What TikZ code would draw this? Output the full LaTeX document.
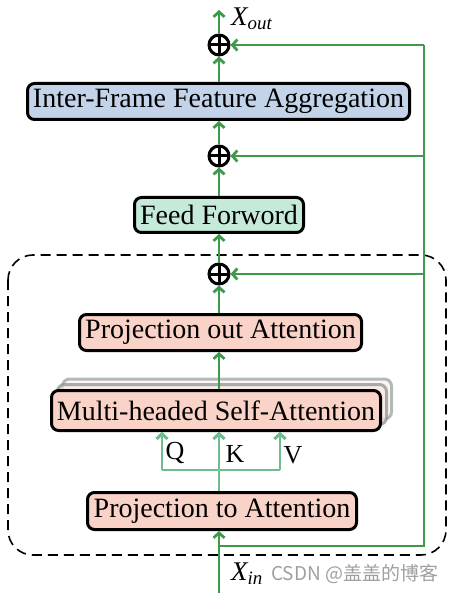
\documentclass[tikz,border=0pt]{standalone}
\usepackage{fontspec}
\setmainfont{Liberation Serif}
\newfontfamily\cjk{Noto Sans CJK SC}
\usetikzlibrary{arrows.meta}

\definecolor{linegreen}{HTML}{3D9A4B}
\definecolor{shadegreen}{HTML}{7FCBA8}
\definecolor{aggblue}{HTML}{C3D4EA}
\definecolor{ffgreen}{HTML}{C6EAD9}
\definecolor{attsalmon}{HTML}{FAD3C8}
\definecolor{shadowgray}{HTML}{7F918E}

\tikzset{
  block/.style={draw, line width=3pt, rounded corners=7pt, inner sep=0pt,
    font=\fontsize{28}{30}\selectfont},
  flow/.style={linegreen, line width=2.8pt, -{Straight Barb[length=5pt,width=11pt]}},
  wire/.style={linegreen, line width=2.8pt},
  adder/.style={circle, draw, line width=3pt, minimum size=20pt, inner sep=0pt,
    path picture={\draw[line width=3pt]
      (path picture bounding box.north) -- (path picture bounding box.south)
      (path picture bounding box.west) -- (path picture bounding box.east);}},
  qkv/.style={font=\fontsize{26}{28}\selectfont, inner sep=0pt},
}

\begin{document}
\begin{tikzpicture}[x=1pt, y=-1pt]
    \useasboundingbox (0,0) rectangle (457,593);

    % Dashed attention block
    \draw[dashed, dash pattern=on 10pt off 6pt, line width=1.6pt, rounded corners=25pt]
        (8,255) rectangle (446,555);

    % Nodes
    \node[adder] (add1) at (219,45) {};
    \node[block, fill=aggblue, minimum width=382pt, minimum height=36pt] (IFA) at (218.5,101.5) {Inter-Frame Feature Aggregation};
    \node[adder] (add2) at (219,156) {};
    \node[block, fill=ffgreen, minimum width=169pt, minimum height=35pt] (FF) at (219,215) {Feed Forword};
    \node[adder] (add3) at (219,274) {};
    \node[block, fill=attsalmon, minimum width=282pt, minimum height=36pt] (PoA) at (220.5,332.5) {Projection out Attention};

    % stacked heads behind
    \node[block, draw=shadowgray, fill=attsalmon!40, opacity=0.6, minimum width=329pt, minimum height=40pt] (MSAback2) at (227,399) {};
    \node[block, draw=shadowgray, fill=attsalmon!60, opacity=0.7, minimum width=329pt, minimum height=40pt] (MSAback1) at (222,404.5) {};
    \node[block, fill=attsalmon, minimum width=329pt, minimum height=40pt] (MSA) at (216,410.5) {Multi-headed Self-Attention};

    \node[block, fill=attsalmon, minimum width=269pt, minimum height=37pt] (PtA) at (222,511) {Projection to Attention};

    \node[qkv] (Q) at (175,453) {Q};
    \node[qkv] (K) at (235,454) {K};
    \node[qkv] (V) at (293,455) {V};

    \coordinate (in) at (219,593);
    \coordinate (out) at (219,10);
    \coordinate (skip) at (219,546);
    \coordinate (split) at (219,470);
    \coordinate (qfoot) at (162,470);
    \coordinate (vfoot) at (280,470);

    \node[font=\fontsize{27}{30}\selectfont\itshape, anchor=west, inner sep=0pt] (Xout) at (231,19) {X\textsubscript{out}};
    \node[font=\fontsize{27}{30}\selectfont\itshape, anchor=west, inner sep=0pt] (Xin) at (231,574) {X\textsubscript{in}};
    \node[font=\cjk\fontsize{19}{22}\selectfont, text=gray!75, anchor=west, inner sep=0pt] (mark) at (271,574) {CSDN @盖盖的博客};

    % Main path
    \draw[flow] (in) -- (PtA.south -| in);
    \draw[wire] (PtA.north -| split) -- (split);
    \draw[wire] (qfoot) -- (vfoot);
    \draw[flow] (qfoot) -- (qfoot |- MSA.south);
    \draw[flow] (split) -- (split |- MSA.south);
    \draw[flow] (vfoot) -- (vfoot |- MSA.south);
    \draw[flow] (MSA.north -| add3) -- (PoA.south -| add3);
    \draw[flow] (PoA.north -| add3) -- (add3);
    \draw[flow] (add3) -- (FF.south -| add3);
    \draw[flow] (FF.north -| add2) -- (add2);
    \draw[flow] (add2) -- (IFA.south -| add2);
    \draw[flow] (IFA.north -| add1) -- (add1);
    \draw[flow] (add1) -- (out);

    % Residual connections
    \draw[wire] (skip) -- (424,546) -- (424,45);
    \draw[flow] (424,45) -- (add1);
    \draw[flow] (424,156) -- (add2);
    \draw[flow] (424,274) -- (add3);

    % faded copies of the Q, K, V split
    \foreach \dx/\dy/\op in {4/-5/0.55, 8/-10/0.4} {
        \begin{scope}[shift={(\dx,\dy)}, opacity=\op]
            \draw[shadegreen, line width=2.4pt] (PtA.north -| split) -- (split);
            \draw[shadegreen, line width=2.4pt] (qfoot) -- (vfoot);
            \draw[flow, shadegreen, line width=2.4pt] (qfoot) -- (qfoot |- MSA.south);
            \draw[flow, shadegreen, line width=2.4pt] (split) -- (split |- MSA.south);
            \draw[flow, shadegreen, line width=2.4pt] (vfoot) -- (vfoot |- MSA.south);
        \end{scope}
    }
\end{tikzpicture}
\end{document}
